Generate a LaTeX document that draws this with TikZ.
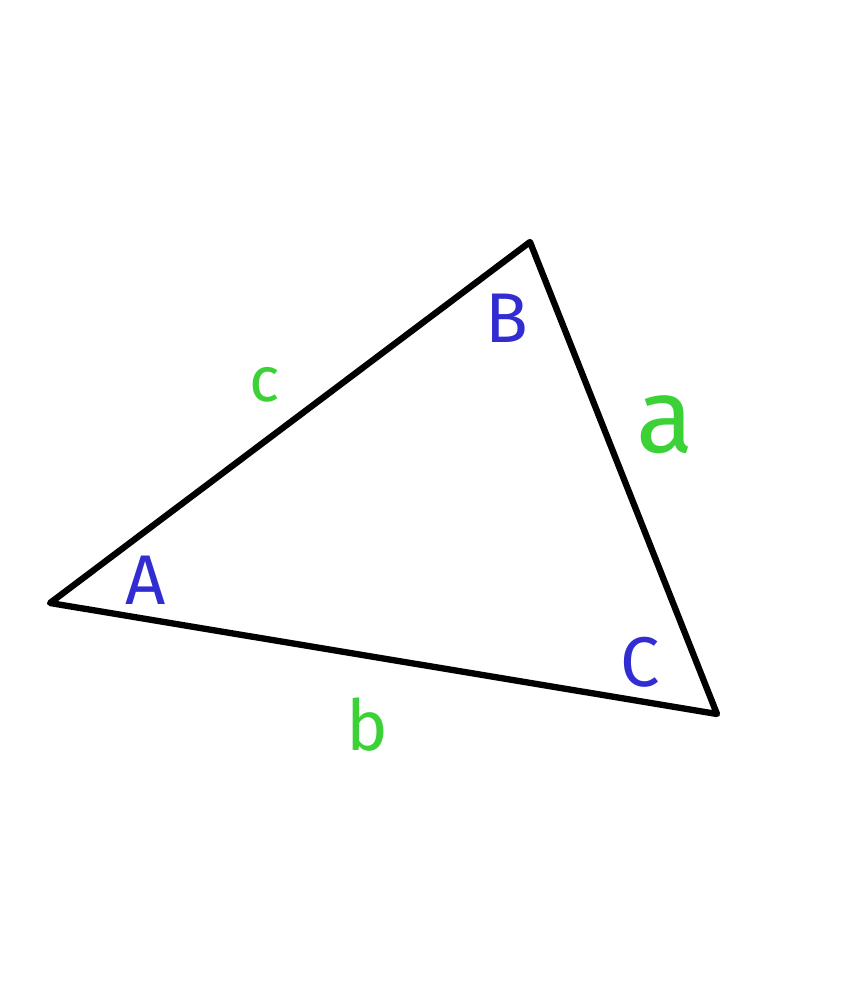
\documentclass[tikz,border=0pt]{standalone}
\usepackage{fontspec}
\setmainfont{Fira Sans}
\usetikzlibrary{positioning}

\definecolor{anglecol}{RGB}{50,45,210}
\definecolor{sidecol}{RGB}{60,210,55}

\begin{document}
\begin{tikzpicture}[x=0.01cm, y=-0.01cm, font=\fontsize{20}{22}\selectfont]
    \useasboundingbox (0,0) rectangle (867,1000);
    \tikzset{
        vertexlabel/.style={text=anglecol, inner sep=0pt},
        sidelabel/.style={text=sidecol, inner sep=0pt},
        edge/.style={line width=1.8pt, line join=round, line cap=round}
    }

    \coordinate (ptA) at (50,603);
    \coordinate (ptB) at (530,242);
    \coordinate (ptC) at (717,714);

    \draw[edge] (ptA) -- (ptB) -- (ptC) -- cycle;

    \node[vertexlabel] at (146,580) (angA) {A};
    \node[vertexlabel] at (507,318) (angB) {B};
    \node[vertexlabel] at (640,662) (angC) {C};

    \node[sidelabel, font=\fontsize{30}{32}\selectfont] at (665,425) (sidea) {a};
    \node[sidelabel] at (367,725) (sideb) {b};
    \node[sidelabel, font=\fontsize{18}{20}\selectfont] at (265,385) (sidec) {c};
\end{tikzpicture}
\end{document}
